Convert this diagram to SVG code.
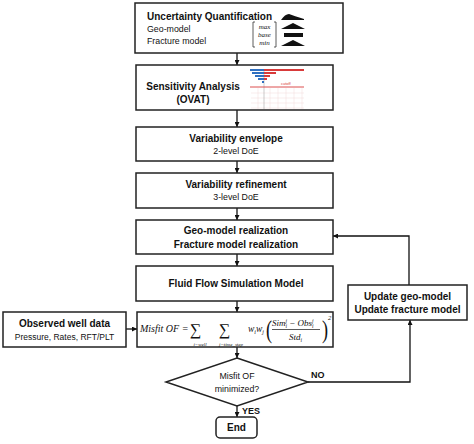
<svg xmlns="http://www.w3.org/2000/svg" width="474" height="444" viewBox="0 0 474 444">
<defs>
<style>
.box{fill:#fff;stroke:#222;stroke-width:1.5}
.t{font-family:"Liberation Sans",Arial,sans-serif;fill:#111}
.b{font-weight:bold;font-size:10px}
.r{font-size:8.8px}
.m{font-family:"Liberation Serif","Times New Roman",serif;font-style:italic;fill:#111}
.c{stroke:#111;stroke-width:1.3;fill:none}
.g{stroke:#f0d8d8;stroke-width:0.5}
</style>
<marker id="ah" viewBox="0 0 10 10" refX="10" refY="5" markerWidth="5" markerHeight="5" orient="auto-start-reverse" markerUnits="userSpaceOnUse">
<path d="M0,0 L10,5 L0,10 z" fill="#111"/>
</marker>
</defs>
<rect width="474" height="444" fill="#fff"/>

<g id="connectors">
<line class="c" x1="237" y1="53" x2="237" y2="65" marker-end="url(#ah)"/>
<line class="c" x1="237" y1="110" x2="237" y2="127" marker-end="url(#ah)"/>
<line class="c" x1="237" y1="161" x2="237" y2="173" marker-end="url(#ah)"/>
<line class="c" x1="237" y1="208" x2="237" y2="220" marker-end="url(#ah)"/>
<line class="c" x1="237" y1="254" x2="237" y2="266" marker-end="url(#ah)"/>
<line class="c" x1="237" y1="301" x2="237" y2="312" marker-end="url(#ah)"/>
<line class="c" x1="237" y1="347" x2="237" y2="358" marker-end="url(#ah)"/>
<line class="c" x1="237" y1="405" x2="237" y2="417" marker-end="url(#ah)"/>
<line class="c" x1="126" y1="329" x2="137" y2="329" marker-end="url(#ah)"/>
<polyline class="c" points="409,285 409,236 333,236" marker-end="url(#ah)"/>
<polyline class="c" points="308,382 410,382 410,320" marker-end="url(#ah)"/>
<text class="t" x="311" y="378" font-size="9" font-weight="bold">NO</text>
<text class="t" x="242" y="414" font-size="9" font-weight="bold">YES</text>
</g>

<g id="n1">
<rect class="box" x="135" y="3" width="208" height="50"/>
<text class="t b" x="147" y="20">Uncertainty Quantification</text>
<text class="t r" x="147" y="32">Geo-model</text>
<text class="t r" x="147" y="44">Fracture model</text>
<path d="M255,22 h-2 v25 h2 M274,22 h2 v25 h-2" fill="none" stroke="#333" stroke-width="0.8"/>
<text class="m" x="264.5" y="29" font-size="7" text-anchor="middle">max</text>
<text class="m" x="264.5" y="37" font-size="7" text-anchor="middle">base</text>
<text class="m" x="264.5" y="45" font-size="7" text-anchor="middle">min</text>
<path d="M281,20 Q285,14 289,14 Q294,16 304,19 L304,20 z" fill="#111"/>
<path d="M281,29 L293,23 L305,29 z" fill="#111"/>
<rect x="284" y="33" width="19" height="4" fill="#111"/>
<path d="M281,46 L293,40 L305,46 z" fill="#111"/>
</g>

<g id="n2">
<rect class="box" x="136" y="65" width="197" height="45"/>
<text class="t b" x="193" y="90" text-anchor="middle">Sensitivity Analysis</text>
<text class="t b" x="193" y="103" text-anchor="middle">(OVAT)</text>
<g>
<line class="g" x1="251" y1="93" x2="304" y2="93"/>
<line class="g" x1="251" y1="98" x2="304" y2="98"/>
<line class="g" x1="251" y1="103" x2="304" y2="103"/>
<line class="g" x1="251" y1="108" x2="304" y2="108"/>
<line class="g" x1="258" y1="88" x2="258" y2="109"/>
<line class="g" x1="270" y1="88" x2="270" y2="109"/>
<line class="g" x1="278" y1="88" x2="278" y2="109"/>
<line class="g" x1="286" y1="88" x2="286" y2="109"/>
<line class="g" x1="294" y1="88" x2="294" y2="109"/>
<line class="g" x1="302" y1="88" x2="302" y2="109"/>
<line x1="264" y1="69" x2="264" y2="109" stroke="#aaa" stroke-width="0.6"/>
<rect x="250" y="69" width="14" height="2" fill="#2f6fc0"/>
<rect x="264" y="69" width="40" height="2" fill="#d83a3a"/>
<rect x="252" y="72" width="12" height="2" fill="#2f6fc0"/>
<rect x="264" y="72" width="12" height="2" fill="#d83a3a"/>
<rect x="255" y="75" width="9" height="2" fill="#2f6fc0"/>
<rect x="264" y="75" width="6" height="2" fill="#d83a3a"/>
<rect x="258" y="78" width="6" height="2" fill="#2f6fc0"/>
<rect x="264" y="78" width="3" height="2" fill="#d83a3a"/>
<rect x="262" y="81" width="2" height="2" fill="#2f6fc0"/>
<line x1="250" y1="87" x2="304" y2="87" stroke="#d83a3a" stroke-width="0.9"/>
<text x="281" y="85" font-family="Liberation Sans,Arial,sans-serif" font-size="4" fill="#d83a3a">cutoff</text>
</g>
</g>

<g id="n3">
<rect class="box" x="136" y="127" width="197" height="34"/>
<text class="t b" x="236" y="142" text-anchor="middle">Variability envelope</text>
<text class="t r" x="236" y="154" text-anchor="middle">2-level DoE</text>
</g>

<g id="n4">
<rect class="box" x="136" y="173" width="197" height="35"/>
<text class="t b" x="236" y="188" text-anchor="middle">Variability refinement</text>
<text class="t r" x="236" y="200" text-anchor="middle">3-level DoE</text>
</g>

<g id="n5">
<rect class="box" x="136" y="220" width="197" height="34"/>
<text class="t b" x="236" y="234" text-anchor="middle">Geo-model realization</text>
<text class="t b" x="236" y="248" text-anchor="middle">Fracture model realization</text>
</g>

<g id="n6">
<rect class="box" x="136" y="266" width="197" height="35"/>
<text class="t b" x="236" y="287" text-anchor="middle">Fluid Flow Simulation Model</text>
</g>

<g id="n7">
<rect class="box" x="137" y="312" width="196" height="35"/>
<text class="m" x="140" y="332" font-size="10">Misfit OF =</text>
<text class="m" x="190" y="335" font-size="16" font-style="normal">∑</text>
<text class="m" x="200" y="345.5" font-size="5" text-anchor="middle">i=well</text>
<text class="m" x="219" y="335" font-size="16" font-style="normal">∑</text>
<text class="m" x="231" y="345.5" font-size="5" text-anchor="middle">j=time_step</text>
<text class="m" x="248" y="332" font-size="9.5">w<tspan font-size="6" dy="2">i</tspan><tspan dy="-2">w</tspan><tspan font-size="6" dy="2">j</tspan></text>
<text x="266" y="338" font-family="Liberation Serif,serif" font-size="26" transform="translate(266 338) scale(0.7 1) translate(-266 -338)" fill="#111">(</text>
<text class="m" x="272" y="326" font-size="9">Sim<tspan font-size="5.5" dy="2">i</tspan><tspan font-size="5.5" dx="-1.6" dy="-5">j</tspan><tspan dy="3"> − Obs</tspan><tspan font-size="5.5" dy="2">i</tspan><tspan font-size="5.5" dx="-1.6" dy="-5">j</tspan></text>
<line x1="272" y1="329.5" x2="320" y2="329.5" stroke="#111" stroke-width="0.7"/>
<text class="m" x="289" y="340" font-size="9">Std<tspan font-size="5.5" dy="2">i</tspan></text>
<text x="322" y="338" font-family="Liberation Serif,serif" font-size="26" transform="translate(322 338) scale(0.7 1) translate(-322 -338)" fill="#111">)</text>
<text class="m" x="328" y="320" font-size="6.5" font-style="normal">2</text>
</g>

<g id="n8">
<rect class="box" x="3" y="312" width="123" height="35"/>
<text class="t b" x="64.5" y="327" text-anchor="middle">Observed well data</text>
<text class="t" x="64.5" y="340" text-anchor="middle" font-size="8.5">Pressure, Rates, RFT/PLT</text>
</g>

<g id="n9">
<rect class="box" x="348" y="285" width="119" height="35"/>
<text class="t b" x="407.5" y="300" text-anchor="middle">Update geo-model</text>
<text class="t b" x="407.5" y="313" text-anchor="middle">Update fracture model</text>
</g>

<g id="n10">
<polygon class="box" points="237,358 308,382 237,406 166,382"/>
<text class="t r" x="237" y="379" text-anchor="middle">Misfit OF</text>
<text class="t r" x="237" y="392" text-anchor="middle">minimized?</text>
</g>

<g id="n11">
<rect class="box" x="216" y="417" width="41" height="21" rx="4"/>
<text class="t b" x="236.5" y="431" text-anchor="middle">End</text>
</g>
</svg>
